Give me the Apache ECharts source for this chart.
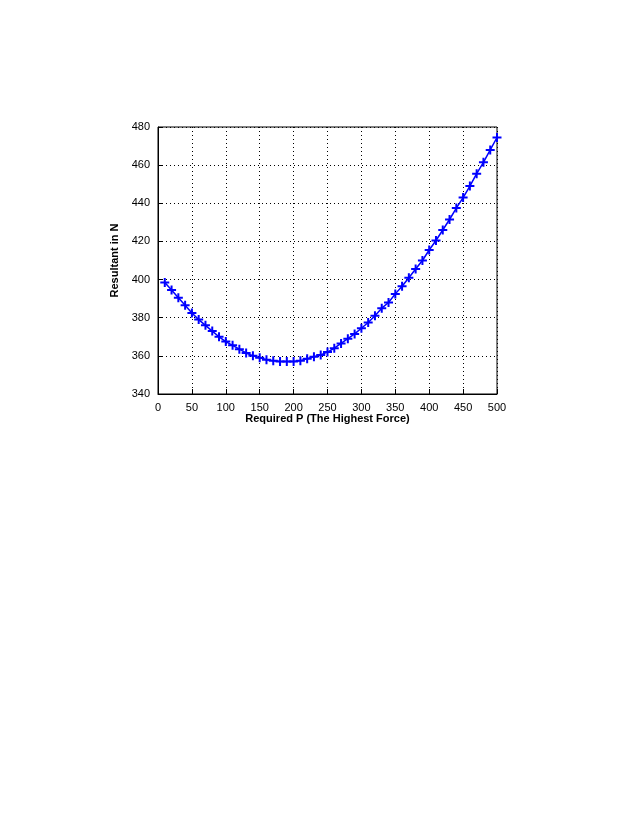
<!DOCTYPE html>
<html>
<head>
<meta charset="utf-8">
<script src="https://cdn.jsdelivr.net/npm/echarts@6/dist/echarts.min.js"></script>
<style>html,body{margin:0;padding:0;background:#fff}#main{width:638px;height:826px}</style>
</head>
<body>
<div id="main"></div>
<script>
// P values (x) and resultant (y)
const pValues = [10,20,30,40,50,60,70,80,90,100,110,120,130,140,150,160,170,180,190,200,
  210,220,230,240,250,260,270,280,290,300,310,320,330,340,350,360,370,380,390,400,
  410,420,430,440,450,460,470,480,490,500];
const resultant = [398.5,394.5,390.5,386.5,382.5,379,376,373,370,367.5,365.5,363.5,361.5,360,359,358,357.5,357,357,357,
  357.5,358.5,359.5,360.5,362,364,366.5,369,371.5,374.5,377.5,381,385,388,392.5,396.5,401,405.5,410,415.5,
  420.5,426,431.5,437.5,443,449,455.5,461.5,468,474.5];

let chart = echarts.init(document.getElementById('main'));
const axisCommon = {
  axisLine: {show: true, onZero: false, lineStyle: {color: '#000'}},
  axisTick: {show: true, inside: true, lineStyle: {color: '#000'}},
  axisLabel: {color: '#000', fontFamily: 'Arial', fontSize: 11},
  splitLine: {show: true, lineStyle: {color: '#000', type: [1, 3], width: 1}},
  nameTextStyle: {color: '#000', fontFamily: 'Arial', fontSize: 11, fontWeight: 'bold'}
};
chart.setOption({
  animation: false,
  grid: {left: 158, right: 141, top: 127, bottom: 432, show: true, borderColor: '#000'},
  xAxis: Object.assign({
    type: 'value', min: 0, max: 500, interval: 50,
    name: 'Required P (The Highest Force)', nameLocation: 'middle', nameGap: 16
  }, axisCommon),
  yAxis: Object.assign({
    type: 'value', min: 340, max: 480, interval: 20,
    name: 'Resultant in N', nameLocation: 'middle', nameGap: 28
  }, axisCommon),
  series: [{
    type: 'line',
    data: pValues.map((p, i) => [p, resultant[i]]),
    symbol: 'path://M0,5L10,5M5,0L5,10',
    symbolSize: 9,
    itemStyle: {color: '#0000ff', borderColor: '#0000ff', borderWidth: 2},
    lineStyle: {color: '#0000ff', width: 1.5}
  }]
});
</script>
</body>
</html>
